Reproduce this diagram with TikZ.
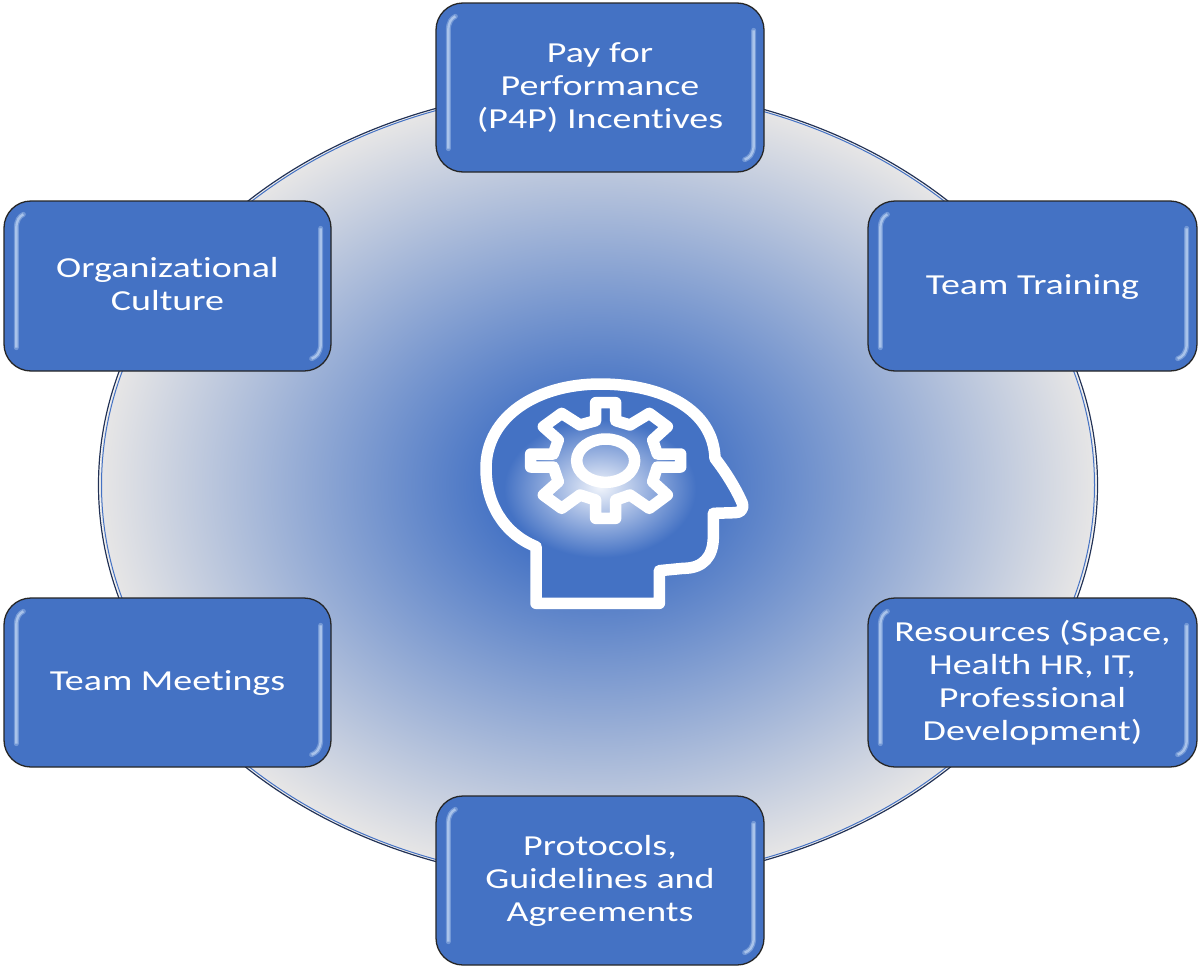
\documentclass[tikz,border=0pt]{standalone}
\usepackage{fontspec}
\setmainfont[FakeStretch=1.31,Ligatures={NoCommon}]{Carlito}
\usetikzlibrary{calc}
\definecolor{boxblue}{RGB}{68,114,196}
\definecolor{hilite}{RGB}{205,225,248}
\definecolor{edgegray}{RGB}{231,230,230}
\definecolor{rimdark}{RGB}{35,50,85}
\pgfdeclareradialshading{discshade}{\pgfpointorigin}{
  color(0bp)=(boxblue); color(5bp)=(boxblue); color(25bp)=(edgegray); color(50bp)=(edgegray)}
\definecolor{glowc}{RGB}{240,244,251}
\definecolor{glowm}{RGB}{160,183,226}
\pgfdeclareradialshading{glowshade}{\pgfpoint{0bp}{1bp}}{
  color(0bp)=(glowc); color(11bp)=(glowm); color(24bp)=(boxblue); color(50bp)=(boxblue)}
\definecolor{boxtop}{RGB}{112,146,214}
\definecolor{boxbot}{RGB}{60,104,184}
\pgfdeclareverticalshading{boxshade}{100bp}{
  color(0bp)=(boxbot); color(4bp)=(boxblue); color(94bp)=(boxblue); color(100bp)=(boxtop)}
\tikzset{
  x=1pt,y=-1pt,
  card/.style={rectangle,rounded corners=27pt,draw=black!85,line width=1.3pt,
    shading=boxshade,inner sep=0pt,align=center,text=white,
    font=\fontsize{29}{33}\selectfont},
  gloss/.style={line width=5pt,draw=hilite,opacity=.35,line cap=round,
    preaction={draw=hilite,line width=2.4pt,opacity=.6}},
  icon/.style={draw=white,line width=11.5pt,line join=round},
}
\newcommand{\bx}[6]{%
  \node[card,minimum width=#4pt-#2pt,minimum height=#5pt-#3pt] (#1)
     at ({(#2+#4)/2},{(#3+#5)/2}) {\raisebox{-1.5pt}[\height][\depth]{\begin{tabular}{@{}c@{}}#6\end{tabular}}};
  \draw[gloss] ($(#1.north west)+(20pt,-14pt)$) .. controls ($(#1.north west)+(16pt,-16pt)$) and ($(#1.north west)+(13pt,-20pt)$) .. ($(#1.north west)+(13pt,-28pt)$) -- ($(#1.south west)+(13pt,24pt)$);
  \draw[gloss] ($(#1.north east)+(-11pt,-28pt)$) -- ($(#1.south east)+(-11pt,26pt)$) .. controls ($(#1.south east)+(-12pt,18pt)$) and ($(#1.south east)+(-15pt,15pt)$) .. ($(#1.south east)+(-20pt,13pt)$);
}
\begin{document}
\begin{tikzpicture}
\useasboundingbox (0,0) rectangle (1200,969);
\fill[white] (0,0) rectangle (1200,969);
% disc
\shade[shading=discshade] (598,485) ellipse [x radius=498pt,y radius=397pt];
\draw[rimdark,line width=1.2pt] (598,485) ellipse [x radius=499.5pt,y radius=398pt];
\draw[boxblue,line width=1pt] (598,485) ellipse [x radius=496.5pt,y radius=396pt];
% head
\begin{scope}[shift={(430,380)},x=0.33333pt,y=-0.33333pt]
  \path[fill=boxblue] (318,500) .. controls (220,460) and (168,370) .. (168,265)
    .. controls (168,110) and (320,12) .. (510,12)
    .. controls (700,12) and (850,90) .. (855,235)
    .. controls (890,280) and (920,330) .. (937,370)
    .. controls (942,390) and (930,398) .. (915,398) -- (850,400) -- (850,470)
    .. controls (850,530) and (820,565) .. (760,565) -- (688,572) -- (688,670)
    -- (318,670) -- cycle;
\end{scope}
\shade[shading=glowshade] (600,490) ellipse [x radius=100pt,y radius=72pt];
\begin{scope}[shift={(430,380)},x=0.33333pt,y=-0.33333pt]
  \draw[icon] (318,500) .. controls (220,460) and (168,370) .. (168,265)
    .. controls (168,110) and (320,12) .. (510,12)
    .. controls (700,12) and (850,90) .. (855,235)
    .. controls (890,280) and (920,330) .. (937,370)
    .. controls (942,390) and (930,398) .. (915,398) -- (850,400) -- (850,470)
    .. controls (850,530) and (820,565) .. (760,565) -- (688,572) -- (688,670)
    -- (318,670) -- cycle;
  \draw[icon] (527,242) ellipse [x radius=87,y radius=65];
  % gear: zoom coordinates
  \draw[icon] (497,68) -- (557,68) -- (557,122) -- (600,135)
     -- (658,100) -- (712,140) -- (668,180) -- (682,222)
     -- (752,222) -- (752,261) -- (682,261) -- (668,305)
     -- (712,345) -- (658,385) -- (600,345) -- (557,360)
     -- (557,415) -- (497,415) -- (497,360) -- (450,345)
     -- (395,385) -- (340,345) -- (385,305) -- (370,261)
     -- (302,261) -- (302,222) -- (370,222) -- (385,180)
     -- (340,140) -- (395,100) -- (450,135) -- (497,122) -- cycle;
\end{scope}
% cards
\bx{pay}{436}{3}{764}{172}{Pay for\\Performance\\(P4P) Incentives}
\bx{org}{4}{201}{331}{371}{Organizational\\Culture}
\bx{train}{868}{201}{1197}{371}{Team Training}
\bx{meet}{4}{598}{331}{767}{Team Meetings}
\bx{res}{868}{598}{1197}{767}{Resources (Space,\\Health HR, IT,\\Professional\\Development)}
\bx{prot}{436}{796}{764}{965}{Protocols,\\Guidelines and\\Agreements}
\end{tikzpicture}
\end{document}
